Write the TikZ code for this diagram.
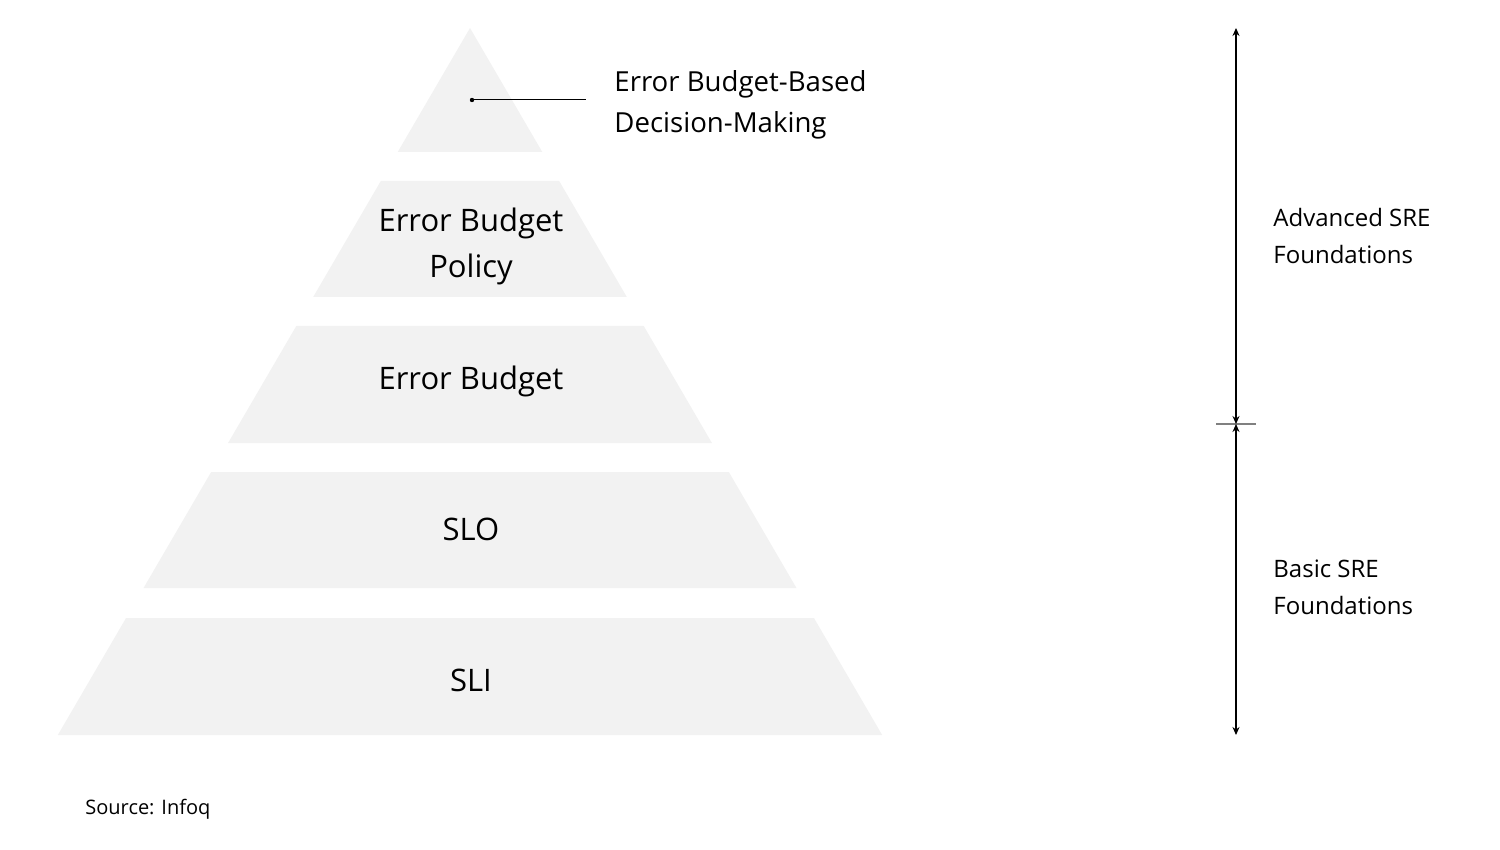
\documentclass[tikz,border=0pt]{standalone}
\usepackage{fontspec}
\setmainfont{Open Sans}
\usepackage{tikz}
\usetikzlibrary{positioning,arrows.meta}
\definecolor{tiergray}{HTML}{F2F2F2}
\tikzset{tier/.style = {fill=tiergray,draw=none},
         tierlabel/.style = {align=center,inner sep=0pt,font=\fontsize{15.5}{23}\selectfont},
         sidelabel/.style = {align=left,anchor=west,inner sep=0pt,font=\fontsize{12}{18.5}\selectfont},
         levelarrow/.style = {line width=1pt,{Stealth[length=4pt,width=3.5pt]}-{Stealth[length=4pt,width=3.5pt]}}}

\begin{document}
\begin{tikzpicture}[x=0.5pt,y=-0.5pt]
                \useasboundingbox (0,0) rectangle (1500,850);
                % pyramid tiers
                \foreach \t/\b in {28/152,181/297,326/443,472/588,618/735}
                    \fill[tier] ({470-0.583*(\t-28)},\t) -- ({470+0.583*(\t-28)},\t)
                        -- ({470+0.583*(\b-28)},\b) -- ({470-0.583*(\b-28)},\b) -- cycle;
                \node[tierlabel] (policy) at (471,246) {Error Budget\\Policy};
                \node[tierlabel] (budget) at (471,381) {Error Budget};
                \node[tierlabel] (slo) at (471,529) {SLO};
                \node[tierlabel] (sli) at (471,680) {SLI};
                % top label
                \coordinate (apex) at (472,100);
                \node[anchor=west,align=left,inner sep=0pt,font=\fontsize{13.8}{20.5}\selectfont] (decision) at (614,105) {Error Budget-Based\\Decision-Making};
                \draw[line width=0.5pt] (apex) -- ([xshift=-14pt]decision.west |- apex);
                \fill (apex) circle (2.2);
                % scale on the right
                \coordinate (top) at (1236,28);
                \coordinate (mid) at (1236,424);
                \coordinate (bot) at (1236,735);
                \draw[gray,line width=0.7pt] ([xshift=-10pt]mid) -- ([xshift=10pt]mid);
                \draw[levelarrow] (top) -- (mid);
                \draw[levelarrow] (mid) -- (bot);
                \node[sidelabel] (advanced) at (1273,236) {Advanced SRE\\Foundations};
                \node[sidelabel] (basic) at (1273,587) {Basic SRE\\Foundations};
                \node[anchor=west,inner sep=0pt,font=\fontsize{10}{12}\selectfont] (source) at (85,809) {Source: Infoq};
\end{tikzpicture}
\end{document}
